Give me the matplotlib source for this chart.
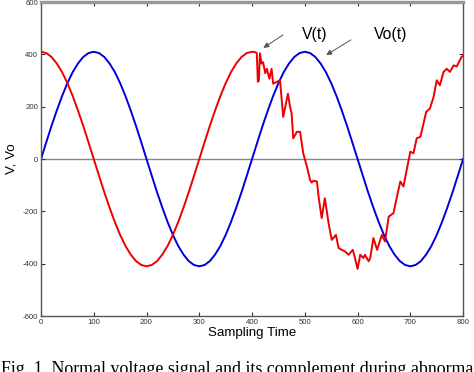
import matplotlib
matplotlib.use('Agg')
import matplotlib.pyplot as plt
import numpy as np

plt.rcParams['axes.unicode_minus'] = False
plt.rcParams['font.family'] = 'Liberation Sans'

# sampling instants, every 10 samples
t_blue = list(range(0, 801, 10))
vo_blue = [0, 64, 127, 186, 241, 290, 332, 365, 390, 405, 410,
           405, 390, 365, 332, 290, 241, 186, 127, 64, 0,
           -64, -127, -186, -241, -290, -332, -365, -390, -405, -410,
           -405, -390, -365, -332, -290, -241, -186, -127, -64, 0,
           64, 127, 186, 241, 290, 332, 365, 390, 405, 410,
           405, 390, 365, 332, 290, 241, 186, 127, 64, 0,
           -64, -127, -186, -241, -290, -332, -365, -390, -405, -410,
           -405, -390, -365, -332, -290, -241, -186, -127, -64, 0]

# V(t): normal part
t_red_normal = list(range(0, 401, 10))
v_red_normal = [410, 405, 390, 365, 332, 290, 241, 186, 127, 64, 0,
                -64, -127, -186, -241, -290, -332, -365, -390, -405, -410,
                -405, -390, -365, -332, -290, -241, -186, -127, -64, 0,
                64, 127, 186, 241, 290, 332, 365, 390, 405, 410]

# V(t): abnormal part
t_red_fault = [405, 409, 411, 413, 415, 418, 421, 425, 428, 433,
               437, 440, 447, 453, 459, 463, 468, 472, 475, 478,
               485, 491, 497, 504, 510, 513, 516, 523, 526, 532,
               538, 545, 551, 559, 564, 570, 576, 583, 591, 595,
               600, 605, 611, 614, 621, 624, 630, 637, 646, 652,
               659, 668, 674, 681, 687, 693, 700, 706, 712, 719,
               725, 730, 737, 744, 750, 756, 763, 769, 775, 782,
               788, 797, 800]
v_red_fault = [409, 405, 295, 300, 404, 365, 370, 328, 345, 307,
               345, 288, 295, 301, 161, 200, 250, 200, 174, 79,
               104, 104, 22, -29, -80, -90, -83, -86, -143, -226,
               -150, -245, -309, -290, -340, -347, -353, -366, -347, -378,
               -420, -366, -378, -366, -391, -378, -302, -347, -290, -315,
               -220, -207, -150, -86, -105, -42, 28, 22, 79, 85,
               136, 180, 193, 237, 301, 282, 333, 345, 333, 358,
               354, 390, 396]

x_ticks = list(range(0, 801, 100))
y_ticks = list(range(-600, 601, 200))

fig = plt.figure(figsize=(4.74, 3.72), dpi=100)
ax = fig.add_axes([0.0865, 0.1505, 0.8905, 0.844])

ax.axhline(0, color='#888888', lw=1.0, zorder=1)
ax.plot(t_blue, vo_blue, color='#0000dd', lw=1.4, zorder=2)
ax.plot(t_red_normal + t_red_fault, v_red_normal + v_red_fault,
        color='#ee0000', lw=1.4, zorder=3, solid_joinstyle='round')

ax.set_xlim(0, 800)
ax.set_ylim(-600, 600)
ax.set_xticks(x_ticks)
ax.set_yticks(y_ticks)
ax.tick_params(direction='in', length=3, width=0.8, labelsize=5.6,
               top=True, right=True, pad=2, colors='#333333')
for s in ax.spines.values():
    s.set_color('#555555')
    s.set_linewidth(1.0)
ax.spines['top'].set_color('#999999')
ax.spines['top'].set_linewidth(2.5)

ax.set_xlabel('Sampling Time', fontsize=9.6, labelpad=1)
ax.set_ylabel('V, Vo', fontsize=9.6, va='center')
ax.yaxis.set_label_coords(-0.069, 0.5)

ax.annotate('', xy=(417, 419), xytext=(463, 480),
            arrowprops=dict(arrowstyle='-|>', color='#555555', lw=0.7,
                            mutation_scale=8))
ax.text(519, 476, 'V(t)', fontsize=11.3, ha='center', va='center')
ax.annotate('', xy=(536, 392), xytext=(592, 461),
            arrowprops=dict(arrowstyle='-|>', color='#555555', lw=0.7,
                            mutation_scale=8))
ax.text(662, 476, 'Vo(t)', fontsize=11.3, ha='center', va='center')

fig.text(0.002, -0.005, 'Fig. 1. Normal voltage signal and its complement during abnormal',
         family='Liberation Serif', fontsize=12.9, ha='left', va='baseline')

fig.savefig('out.png', dpi=100)
